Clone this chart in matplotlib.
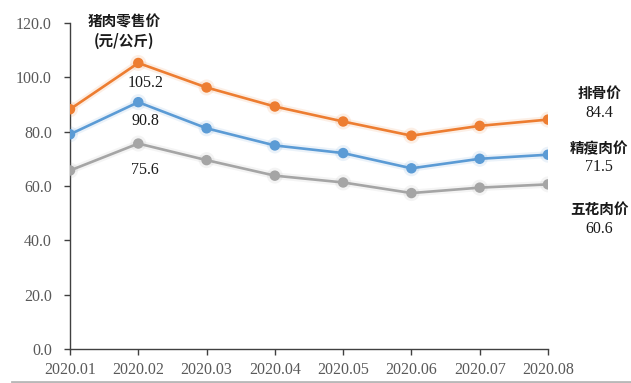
import matplotlib
matplotlib.use("Agg")
import matplotlib.pyplot as plt
import matplotlib.patheffects as pe
from matplotlib.lines import Line2D

plt.rcParams['font.family'] = ['Liberation Serif', 'Noto Sans CJK SC', 'DejaVu Sans']

months = ["2020.01", "2020.02", "2020.03", "2020.04", "2020.05", "2020.06", "2020.07", "2020.08"]
paigu = [88.2, 105.2, 96.2, 89.2, 83.7, 78.5, 82.1, 84.4]
shouroue = [79.0, 90.8, 81.2, 74.9, 72.1, 66.5, 70.0, 71.5]
wuhua = [65.7, 75.6, 69.5, 63.8, 61.3, 57.4, 59.4, 60.6]
yticks = [0, 20, 40, 60, 80, 100, 120]

colors = ["#ED7D31", "#5B9BD5", "#A5A5A5"]
series = [paigu, shouroue, wuhua]

fig = plt.figure(figsize=(6.31, 3.83), dpi=100)
ax = fig.add_axes([70/631, 33.7/383, (548-70)/631, (349.3-22.7)/383])

x = list(range(len(months)))
for s, c in zip(series, colors):
    ax.plot(x, s, color=c, lw=1.9, marker='o', ms=6.5, mec=c, mfc=c, zorder=3,
            path_effects=[pe.Stroke(linewidth=5, foreground=c, alpha=0.12), pe.Normal()])

ax.set_xlim(0, len(months) - 1)
ax.set_ylim(0, 120)
ax.set_yticks(yticks)
ax.set_yticklabels([f"{v:.1f}" for v in yticks])
ax.set_xticks(x)
ax.set_xticklabels(months)

for sp in ['top', 'right']:
    ax.spines[sp].set_visible(False)
for sp in ['left', 'bottom']:
    ax.spines[sp].set_color('#404040')
    ax.spines[sp].set_linewidth(1.0)
ax.tick_params(axis='both', colors='#404040', length=4, width=1.0, labelsize=11.5, labelcolor='#595959')
ax.tick_params(axis='y', pad=9)
ax.tick_params(axis='x', pad=5)

cjk = ['Noto Sans CJK SC', 'DejaVu Sans']
ax.text(0.79, 116.8, "猪肉零售价\n(元/公斤)", fontsize=10.5, family=cjk, fontweight='bold',
        ha='center', va='center', linespacing=1.25, color='#1a1a1a', clip_on=False)

ax.text(1.1, paigu[1] - 7.3, f"{paigu[1]:.1f}", fontsize=11.5, ha='center', va='center', color='#1a1a1a')
ax.text(1.1, shouroue[1] - 7.1, f"{shouroue[1]:.1f}", fontsize=11.5, ha='center', va='center', color='#1a1a1a')
ax.text(1.1, wuhua[1] - 9.9, f"{wuhua[1]:.1f}", fontsize=11.5, ha='center', va='center', color='#1a1a1a')

right_labels = [("排骨价", paigu[-1], 94.2), ("精瘦肉价", shouroue[-1], 74.0), ("五花肉价", wuhua[-1], 51.5)]
for name, val, ypos in right_labels:
    ax.text(7.75, ypos, name, fontsize=10.5, family=cjk, fontweight='bold', ha='center', va='center',
            color='#1a1a1a', clip_on=False)
    ax.text(7.75, ypos - 7.2, f"{val:.1f}", fontsize=11.5, ha='center', va='center',
            color='#1a1a1a', clip_on=False)

fig.add_artist(Line2D([12/631, 1.0], [1.5/383, 1.5/383], color='#b8b8b8', lw=2, transform=fig.transFigure))

fig.savefig("out.png", dpi=100)
